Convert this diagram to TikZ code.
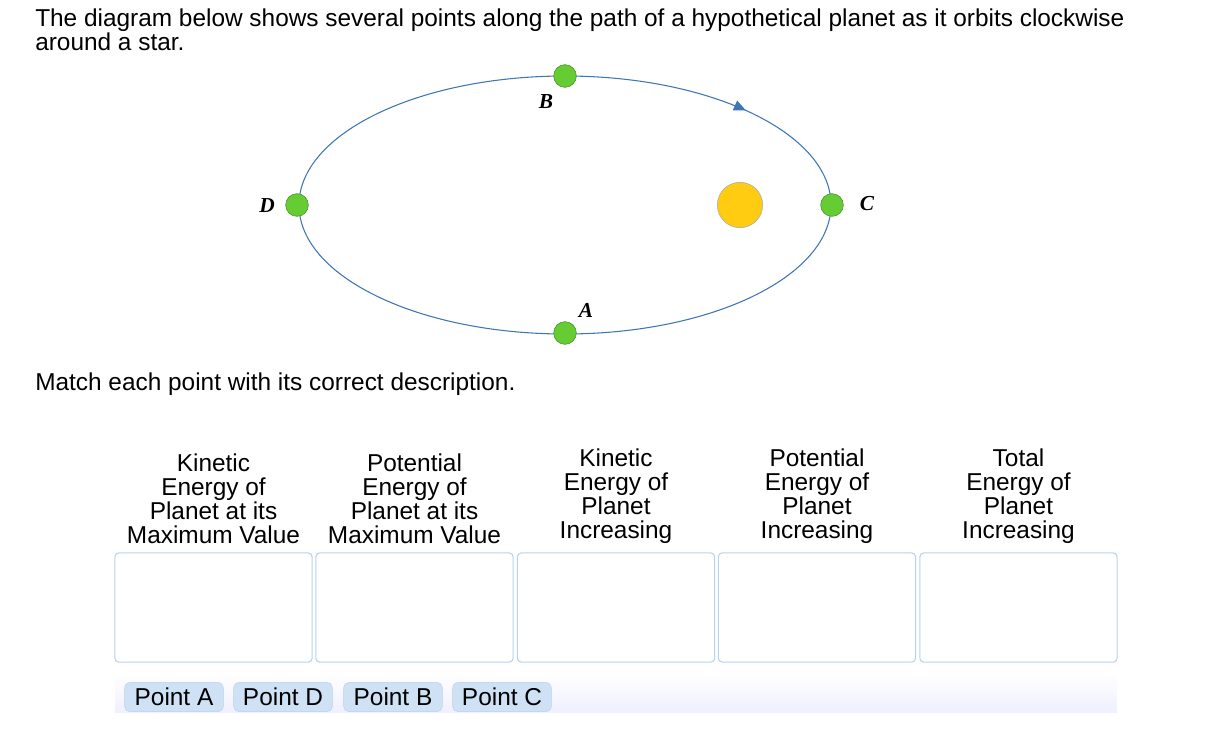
\documentclass[tikz,border=0pt]{standalone}
\usepackage{fontspec}
\setmainfont{Liberation Sans}
\newfontfamily\serifl{Liberation Serif}
\usetikzlibrary{arrows.meta,decorations.markings}
\definecolor{orbit}{HTML}{3F76B4}
\definecolor{planet}{HTML}{66CC33}
\definecolor{sun}{HTML}{FFCC11}
\definecolor{boxb}{HTML}{B8D2EC}
\definecolor{btn}{HTML}{CFE2F5}
\tikzset{
 px/.style={x=0.75pt,y=-0.75pt},
 txt/.style={font=\fontsize{18.3}{18}\selectfont,inner sep=0pt},
 head/.style={font=\fontsize{18.3}{18}\selectfont,align=center,inner sep=0pt,anchor=south},
 planetn/.style={circle,fill=planet,draw=planet!70!black,line width=0.4pt,minimum size=17pt,inner sep=0pt},
 lab/.style={font=\serifl\bfseries\itshape\fontsize{16}{16}\selectfont,inner sep=0pt},
 dropbox/.style={draw=boxb,line width=0.8pt,rounded corners=3pt,minimum width=148pt,minimum height=82pt,inner sep=0pt},
 button/.style={fill=btn,draw=boxb,rounded corners=4pt,minimum width=74pt,minimum height=22pt,inner sep=0pt,font=\fontsize{18.3}{18}\selectfont}
}
\begin{document}
\begin{tikzpicture}[px]
\useasboundingbox (0,0) rectangle (1232,749);
\node[txt,anchor=base west] (t1) at (35,27) {The diagram below shows several points along the path of a hypothetical planet as it orbits clockwise};
\node[txt,anchor=base west] (t2) at (35,51) {around a star.};
% orbit
\draw[orbit,line width=0.8pt,postaction={decorate},decoration={markings,mark=at position 0.895 with {\arrow{Triangle[length=9pt,width=8pt]}}}] (565,205) ellipse [x radius=266,y radius=129];
\node[circle,fill=sun,draw=gray!70,minimum size=34pt,inner sep=0pt] (star) at (740,205) {};
\node[planetn] (B) at (565,76) {};
\node[planetn] (A) at (565,333) {};
\node[planetn] (D) at (297,205) {};
\node[planetn] (C) at (832,205) {};
\node[lab] (lB) at (546,102) {B};
\node[lab] (lA) at (586,310) {A};
\node[lab] (lD) at (267,206) {D};
\node[lab] (lC) at (867,204) {C};
\node[txt,anchor=base west] (m) at (35,390) {Match each point with its correct description.};
% boxes
\foreach \x/\n/\t in {213.5/b1/{Kinetic\\Energy of\\Planet at its\\Maximum Value},414.5/b2/{Potential\\Energy of\\Planet at its\\Maximum Value},616/b3/{Kinetic\\Energy of\\Planet\\Increasing},817/b4/{Potential\\Energy of\\Planet\\Increasing},1018.5/b5/{Total\\Energy of\\Planet\\Increasing}}{
 \node[dropbox] (\n) at (\x,607.5) {};
 \node[head] (h\n) at (\x,544) {\t};
}
\shade[top color=white,bottom color=blue!6,draw=none] (115,673) rectangle (1117,712);
\node[button] (pA) at (174,697) {Point A};
\node[button] (pD) at (283,697) {Point D};
\node[button] (pB) at (393,697) {Point B};
\node[button] (pC) at (502,697) {Point C};
\end{tikzpicture}
\end{document}
